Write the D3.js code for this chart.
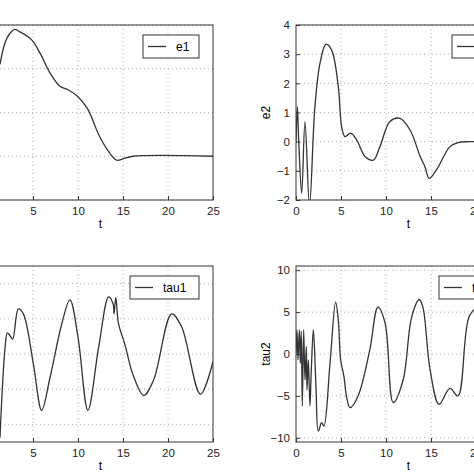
<!DOCTYPE html>
<html><head><meta charset="utf-8">
<script src="https://cdn.jsdelivr.net/npm/d3@7"></script>
<style>body{margin:0;background:#fff}svg{display:block}</style>
</head><body><svg id="viz" width="474" height="474"></svg>
<script>
// time ticks shared by all panels
const tTicks = [0, 5, 10, 15, 20, 25];

// e1
const e1T = [1.33, 1.9, 2.4, 2.96, 3.5, 4.85, 5.8, 6.9, 8, 8.9, 10, 11.1, 12.4, 13.6, 14.3, 15.0, 16.1, 25];
const e1V = [2.1, 2.6, 2.8, 2.9, 2.85, 2.66, 2.35, 1.9, 1.6, 1.52, 1.36, 1.07, 0.45, 0.05, -0.09, -0.06, 0, 0];
const e1Ticks = [-1, 0, 1, 2, 3];

// e2
const e2T = [0, 0.15, 0.3, 0.63, 1.0, 1.5, 2.1, 2.67, 3.33, 3.96, 4.7, 5.07, 5.44, 6.07, 6.74, 7.67, 8.6, 9.33, 10.44, 11.55, 12.67, 13.8, 14.33, 14.8, 15.6, 17.1, 18.0, 19.3, 25];
const e2V = [0, 1.2, 0.06, -1.77, 0.69, -2.2, 1.2, 2.69, 3.34, 3.14, 1.89, 0.51, 0.17, 0.29, 0.06, -0.51, -0.63, -0.17, 0.69, 0.8, 0.4, -0.51, -0.86, -1.26, -0.97, -0.17, -0.03, 0, 0];
const e2Ticks = [-2, -1, 0, 1, 2, 3, 4];

// tau1
const tau1T = [1.33, 1.9, 2.15, 2.4, 2.74, 3.37, 3.93, 5.04, 5.96, 6.9, 8.2, 9.1, 10.0, 11.1, 12.3, 13.4, 13.9, 14.0, 14.2, 14.5, 15.2, 16.1, 17.3, 18.4, 20.4, 21.5, 23.6, 25];
const tau1V = [-11.9, 1, 3, 2.7, 2.1, 6.4, 5.7, -1.4, -8, -3.3, 4.3, 7.7, 2.4, -8, 1, 8.1, 7.1, 5.7, 8, 4.3, 1.4, -2.9, -5.9, -3.7, 5.7, 3.9, -5.7, -1.1];
const tau1Ticks = [-10, -5, 0, 5, 10];

// tau2
const tau2T = [0, 0.1, 0.22, 0.37, 0.48, 0.59, 0.7, 0.85, 1.0, 1.15, 1.22, 1.37, 1.55, 1.7, 1.93, 2.22, 2.48, 2.85, 3.1, 3.78, 4.4, 4.7, 4.96, 5.33, 5.63, 6.0, 6.9, 8.2, 9.1, 9.9, 10.8, 11.9, 12.85, 13.7, 14.1, 14.9, 15.9, 17.1, 18.0, 19.3, 20.4, 22.5, 25];
const tau2V = [0.1, 2.9, -0.7, 2.9, -1.1, 2.7, -6.2, 2.9, -3.1, 0.9, -4.3, -0.7, -6.2, -1.9, 2.9, -3.9, -9.2, -8.2, -8.6, -1.1, 6.2, 4.1, -0.7, -2.7, -5.2, -6.4, -5.0, 0.5, 5.6, 3.7, -5.8, -3.1, 4.4, 6.5, 5.6, -1.9, -6.0, -4.1, -5.0, 4.6, 5.5, -5, 0];
const tau2Ticks = [-10, -5, 0, 5, 10];

const svg = d3.select("#viz");
const font = "Liberation Sans, Arial, sans-serif";
const ink = "#333";

function panel(id, box, yDomain, yTicks, ts, vs, name, legend, yLabel) {
  const x = d3.scaleLinear().domain([0, 25]).range([box.x0, box.x1]);
  const y = d3.scaleLinear().domain(yDomain).range([box.y1, box.y0]);
  const g = svg.append("g");

  g.append("clipPath").attr("id", id).append("rect")
    .attr("x", box.x0).attr("y", box.y0)
    .attr("width", box.x1 - box.x0).attr("height", box.y1 - box.y0);

  // grid
  g.selectAll(".gx").data(tTicks.slice(1, -1)).enter().append("line")
    .attr("x1", d => x(d)).attr("x2", d => x(d))
    .attr("y1", box.y0).attr("y2", box.y1)
    .attr("stroke", "#999").attr("stroke-dasharray", "1,3").attr("stroke-width", 0.8);
  g.selectAll(".gy").data(yTicks).enter().append("line")
    .attr("x1", box.x0).attr("x2", box.x1)
    .attr("y1", d => y(d)).attr("y2", d => y(d))
    .attr("stroke", "#999").attr("stroke-dasharray", "1,3").attr("stroke-width", 0.8);

  // axes with inward ticks
  const xa = g.append("g").attr("transform", `translate(0,${box.y1})`)
    .call(d3.axisBottom(x).tickValues(tTicks).tickSizeInner(-4).tickSizeOuter(0).tickPadding(7));
  const ya = g.append("g").attr("transform", `translate(${box.x0},0)`)
    .call(d3.axisLeft(y).tickValues(yTicks).tickSizeInner(-4).tickSizeOuter(0).tickPadding(6)
      .tickFormat(d => d < 0 ? "\u2212" + (-d) : d));
  [xa, ya].forEach(a => {
    a.select(".domain").remove();
    a.selectAll("line").attr("stroke", ink);
    a.selectAll("text").attr("font-family", font).attr("font-size", 11.5).attr("fill", "#222");
  });

  g.append("rect").attr("x", box.x0).attr("y", box.y0)
    .attr("width", box.x1 - box.x0).attr("height", box.y1 - box.y0)
    .attr("fill", "none").attr("stroke", ink).attr("stroke-width", 1);

  const pts = ts.map((t, i) => [t, vs[i]]);
  g.append("path").datum(pts)
    .attr("clip-path", `url(#${id})`)
    .attr("d", d3.line().x(d => x(d[0])).y(d => y(d[1])).curve(d3.curveCatmullRom.alpha(0.5)))
    .attr("fill", "none").attr("stroke", ink).attr("stroke-width", 1.3);

  g.append("text").attr("x", (box.x0 + box.x1) / 2).attr("y", box.y1 + 28)
    .attr("text-anchor", "middle").attr("font-family", font).attr("font-size", 12).text("t");
  g.append("text")
    .attr("transform", `translate(${box.x0 - 26},${(box.y0 + box.y1) / 2}) rotate(-90)`)
    .attr("text-anchor", "middle").attr("font-family", font).attr("font-size", 12).text(yLabel);

  // legend
  const lg = g.append("g").attr("transform", `translate(${legend.x},${legend.y})`);
  lg.append("rect").attr("width", legend.w).attr("height", 23)
    .attr("fill", "#fff").attr("stroke", ink).attr("stroke-width", 1);
  lg.append("line").attr("x1", 5).attr("x2", 23).attr("y1", 11.5).attr("y2", 11.5)
    .attr("stroke", ink).attr("stroke-width", 1.3);
  lg.append("text").attr("x", 33).attr("y", 16).attr("font-family", font)
    .attr("font-size", 12).text(name);
}

panel("c1", {x0: -12, x1: 213, y0: 25, y1: 200}, [-1, 3], e1Ticks, e1T, e1V, "e1", {x: 143, y: 35, w: 56}, "e1");
panel("c2", {x0: 296, x1: 521, y0: 25, y1: 200}, [-2, 4], e2Ticks, e2T, e2V, "e2", {x: 452, y: 35, w: 56}, "e2");
panel("c3", {x0: -12, x1: 213, y0: 266, y1: 442}, [-12.5, 12.5], tau1Ticks, tau1T, tau1V, "tau1", {x: 130, y: 276, w: 69}, "tau1");
panel("c4", {x0: 296, x1: 521, y0: 266, y1: 442}, [-10.5, 10.5], tau2Ticks, tau2T, tau2V, "tau2", {x: 439, y: 276, w: 69}, "tau2");
</script></body></html>
